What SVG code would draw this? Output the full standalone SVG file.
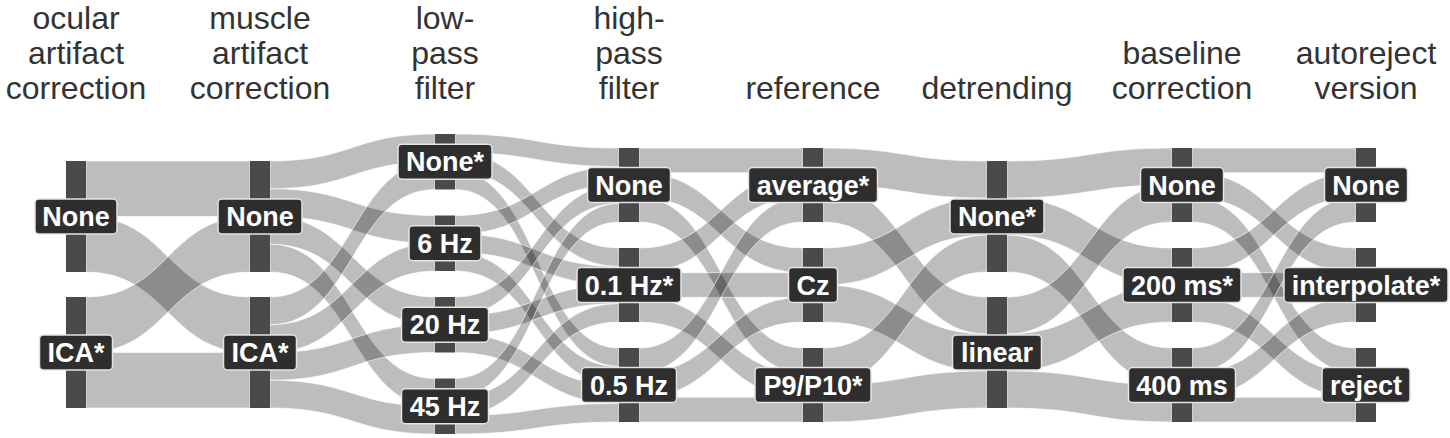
<svg xmlns="http://www.w3.org/2000/svg" width="1450" height="438" viewBox="0 0 1450 438">
<style>
.hd{font-family:"Liberation Sans",Arial,sans-serif;font-size:32px;fill:#333;text-anchor:middle}
.rb{fill:#000;fill-opacity:0.26;stroke:#fff;stroke-opacity:0.6;stroke-width:1}
.bar{fill:#4a4a4a}
.lb{fill:#2e2e2e;stroke:#e4e4e4;stroke-width:1.5}
.lt{font-family:"Liberation Sans",Arial,sans-serif;font-size:27px;font-weight:bold;fill:#fff;text-anchor:middle}
</style>
<rect width="1450" height="438" fill="#fff"/>
<g id="headers">
<text class="hd" x="76" y="29">ocular</text><text class="hd" x="76" y="64">artifact</text><text class="hd" x="76" y="99">correction</text>
<text class="hd" x="260" y="29">muscle</text><text class="hd" x="260" y="64">artifact</text><text class="hd" x="260" y="99">correction</text>
<text class="hd" x="445" y="29">low-</text><text class="hd" x="445" y="64">pass</text><text class="hd" x="445" y="99">filter</text>
<text class="hd" x="629" y="29">high-</text><text class="hd" x="629" y="64">pass</text><text class="hd" x="629" y="99">filter</text>
<text class="hd" x="813" y="99">reference</text>
<text class="hd" x="997" y="99">detrending</text>
<text class="hd" x="1182" y="64">baseline</text><text class="hd" x="1182" y="99">correction</text>
<text class="hd" x="1366" y="64">autoreject</text><text class="hd" x="1366" y="99">version</text>
</g>
<g id="connectors">
<path class="rb" d="M86,161 H250 V216.5 H86Z"/>
<path class="rb" d="M86,216.5 C168,216.5 168,297 250,297 L250,352.5 C168,352.5 168,272 86,272Z"/>
<path class="rb" d="M86,297 C168,297 168,216.5 250,216.5 L250,272 C168,272 168,352.5 86,352.5Z"/>
<path class="rb" d="M86,352.5 H250 V408 H86Z"/>

<path class="rb" d="M270,161 C352.5,161 352.5,134 435,134 L435,161.75 C352.5,161.75 352.5,188.75 270,188.75Z"/>
<path class="rb" d="M270,188.75 C352.5,188.75 352.5,215.5 435,215.5 L435,243.25 C352.5,243.25 352.5,216.5 270,216.5Z"/>
<path class="rb" d="M270,216.5 C352.5,216.5 352.5,297 435,297 L435,324.75 C352.5,324.75 352.5,244.25 270,244.25Z"/>
<path class="rb" d="M270,244.25 C352.5,244.25 352.5,378.5 435,378.5 L435,406.25 C352.5,406.25 352.5,272 270,272Z"/>
<path class="rb" d="M270,297 C352.5,297 352.5,161.75 435,161.75 L435,189.5 C352.5,189.5 352.5,324.75 270,324.75Z"/>
<path class="rb" d="M270,324.75 C352.5,324.75 352.5,243.25 435,243.25 L435,271 C352.5,271 352.5,352.5 270,352.5Z"/>
<path class="rb" d="M270,352.5 C352.5,352.5 352.5,324.75 435,324.75 L435,352.5 C352.5,352.5 352.5,380.25 270,380.25Z"/>
<path class="rb" d="M270,380.25 C352.5,380.25 352.5,406.25 435,406.25 L435,434 C352.5,434 352.5,408 270,408Z"/>

<path class="rb" d="M455,134 C537,134 537,148 619,148 L619,166.5 C537,166.5 537,152.5 455,152.5Z"/>
<path class="rb" d="M455,152.5 C537,152.5 537,248 619,248 L619,266.5 C537,266.5 537,171 455,171Z"/>
<path class="rb" d="M455,171 C537,171 537,348 619,348 L619,366.5 C537,366.5 537,189.5 455,189.5Z"/>
<path class="rb" d="M455,215.5 C537,215.5 537,166.5 619,166.5 L619,185 C537,185 537,234 455,234Z"/>
<path class="rb" d="M455,234 C537,234 537,266.5 619,266.5 L619,285 C537,285 537,252.5 455,252.5Z"/>
<path class="rb" d="M455,252.5 C537,252.5 537,366.5 619,366.5 L619,385 C537,385 537,271 455,271Z"/>
<path class="rb" d="M455,297 C537,297 537,185 619,185 L619,203.5 C537,203.5 537,315.5 455,315.5Z"/>
<path class="rb" d="M455,315.5 C537,315.5 537,285 619,285 L619,303.5 C537,303.5 537,334 455,334Z"/>
<path class="rb" d="M455,334 C537,334 537,385 619,385 L619,403.5 C537,403.5 537,352.5 455,352.5Z"/>
<path class="rb" d="M455,378.5 C537,378.5 537,203.5 619,203.5 L619,222 C537,222 537,397 455,397Z"/>
<path class="rb" d="M455,397 C537,397 537,303.5 619,303.5 L619,322 C537,322 537,415.5 455,415.5Z"/>
<path class="rb" d="M455,415.5 C537,415.5 537,403.5 619,403.5 L619,422 C537,422 537,434 455,434Z"/>

<path class="rb" d="M639,148 H803 V172.67 H639Z"/>
<path class="rb" d="M639,172.67 C721,172.67 721,248 803,248 L803,272.67 C721,272.67 721,197.33 639,197.33Z"/>
<path class="rb" d="M639,197.33 C721,197.33 721,348 803,348 L803,372.67 C721,372.67 721,222 639,222Z"/>
<path class="rb" d="M639,248 C721,248 721,172.67 803,172.67 L803,197.33 C721,197.33 721,272.67 639,272.67Z"/>
<path class="rb" d="M639,272.67 H803 V297.33 H639Z"/>
<path class="rb" d="M639,297.33 C721,297.33 721,372.67 803,372.67 L803,397.33 C721,397.33 721,322 639,322Z"/>
<path class="rb" d="M639,348 C721,348 721,197.33 803,197.33 L803,222 C721,222 721,372.67 639,372.67Z"/>
<path class="rb" d="M639,372.67 C721,372.67 721,297.33 803,297.33 L803,322 C721,322 721,397.33 639,397.33Z"/>
<path class="rb" d="M639,397.33 H803 V422 H639Z"/>

<path class="rb" d="M823,148 C905,148 905,161 987,161 L987,198 C905,198 905,185 823,185Z"/>
<path class="rb" d="M823,185 C905,185 905,297 987,297 L987,334 C905,334 905,222 823,222Z"/>
<path class="rb" d="M823,248 C905,248 905,198 987,198 L987,235 C905,235 905,285 823,285Z"/>
<path class="rb" d="M823,285 C905,285 905,334 987,334 L987,371 C905,371 905,322 823,322Z"/>
<path class="rb" d="M823,348 C905,348 905,235 987,235 L987,272 C905,272 905,385 823,385Z"/>
<path class="rb" d="M823,385 C905,385 905,371 987,371 L987,408 C905,408 905,422 823,422Z"/>

<path class="rb" d="M1007,161 C1089.5,161 1089.5,148 1172,148 L1172,185 C1089.5,185 1089.5,198 1007,198Z"/>
<path class="rb" d="M1007,198 C1089.5,198 1089.5,248 1172,248 L1172,285 C1089.5,285 1089.5,235 1007,235Z"/>
<path class="rb" d="M1007,235 C1089.5,235 1089.5,348 1172,348 L1172,385 C1089.5,385 1089.5,272 1007,272Z"/>
<path class="rb" d="M1007,297 C1089.5,297 1089.5,185 1172,185 L1172,222 C1089.5,222 1089.5,334 1007,334Z"/>
<path class="rb" d="M1007,334 C1089.5,334 1089.5,285 1172,285 L1172,322 C1089.5,322 1089.5,371 1007,371Z"/>
<path class="rb" d="M1007,371 C1089.5,371 1089.5,385 1172,385 L1172,422 C1089.5,422 1089.5,408 1007,408Z"/>

<path class="rb" d="M1192,148 H1356 V172.67 H1192Z"/>
<path class="rb" d="M1192,172.67 C1274,172.67 1274,248 1356,248 L1356,272.67 C1274,272.67 1274,197.33 1192,197.33Z"/>
<path class="rb" d="M1192,197.33 C1274,197.33 1274,348 1356,348 L1356,372.67 C1274,372.67 1274,222 1192,222Z"/>
<path class="rb" d="M1192,248 C1274,248 1274,172.67 1356,172.67 L1356,197.33 C1274,197.33 1274,272.67 1192,272.67Z"/>
<path class="rb" d="M1192,272.67 H1356 V297.33 H1192Z"/>
<path class="rb" d="M1192,297.33 C1274,297.33 1274,372.67 1356,372.67 L1356,397.33 C1274,397.33 1274,322 1192,322Z"/>
<path class="rb" d="M1192,348 C1274,348 1274,197.33 1356,197.33 L1356,222 C1274,222 1274,372.67 1192,372.67Z"/>
<path class="rb" d="M1192,372.67 C1274,372.67 1274,297.33 1356,297.33 L1356,322 C1274,322 1274,397.33 1192,397.33Z"/>
<path class="rb" d="M1192,397.33 H1356 V422 H1192Z"/>
</g>
<g id="ocular-none"><rect class="bar" x="66" y="161" width="20" height="111"/><rect class="lb" x="35" y="199" width="82" height="35" rx="4"/><text class="lt" x="76" y="226">None</text></g>
<g id="ocular-ica"><rect class="bar" x="66" y="297" width="20" height="111"/><rect class="lb" x="39.5" y="335" width="73" height="35" rx="4"/><text class="lt" x="76" y="362">ICA*</text></g>
<g id="muscle-none"><rect class="bar" x="250" y="161" width="20" height="111"/><rect class="lb" x="218" y="199" width="84" height="35" rx="4"/><text class="lt" x="260" y="226">None</text></g>
<g id="muscle-ica"><rect class="bar" x="250" y="297" width="20" height="111"/><rect class="lb" x="223.5" y="335" width="73" height="35" rx="4"/><text class="lt" x="260" y="362">ICA*</text></g>
<g id="lowpass-none"><rect class="bar" x="435" y="134" width="20" height="55.5"/><rect class="lb" x="398" y="144.25" width="94" height="35" rx="4"/><text class="lt" x="445" y="171.25">None*</text></g>
<g id="lowpass-6"><rect class="bar" x="435" y="215.5" width="20" height="55.5"/><rect class="lb" x="409" y="225.75" width="72" height="35" rx="4"/><text class="lt" x="445" y="252.75">6 Hz</text></g>
<g id="lowpass-20"><rect class="bar" x="435" y="297" width="20" height="55.5"/><rect class="lb" x="401.5" y="307.25" width="87" height="35" rx="4"/><text class="lt" x="445" y="334.25">20 Hz</text></g>
<g id="lowpass-45"><rect class="bar" x="435" y="378.5" width="20" height="55.5"/><rect class="lb" x="401.5" y="388.75" width="87" height="35" rx="4"/><text class="lt" x="445" y="415.75">45 Hz</text></g>
<g id="highpass-none"><rect class="bar" x="619" y="148" width="20" height="74"/><rect class="lb" x="587.5" y="167.5" width="83" height="35" rx="4"/><text class="lt" x="629" y="194.5">None</text></g>
<g id="highpass-01"><rect class="bar" x="619" y="248" width="20" height="74"/><rect class="lb" x="577" y="267.5" width="104" height="35" rx="4"/><text class="lt" x="629" y="294.5">0.1 Hz*</text></g>
<g id="highpass-05"><rect class="bar" x="619" y="348" width="20" height="74"/><rect class="lb" x="581.5" y="367.5" width="95" height="35" rx="4"/><text class="lt" x="629" y="394.5">0.5 Hz</text></g>
<g id="ref-average"><rect class="bar" x="803" y="148" width="20" height="74"/><rect class="lb" x="748.5" y="167.5" width="129" height="35" rx="4"/><text class="lt" x="813" y="194.5">average*</text></g>
<g id="ref-cz"><rect class="bar" x="803" y="248" width="20" height="74"/><rect class="lb" x="788.5" y="267.5" width="49" height="35" rx="4"/><text class="lt" x="813" y="294.5">Cz</text></g>
<g id="ref-p9p10"><rect class="bar" x="803" y="348" width="20" height="74"/><rect class="lb" x="755" y="367.5" width="116" height="35" rx="4"/><text class="lt" x="813" y="394.5">P9/P10*</text></g>
<g id="detrend-none"><rect class="bar" x="987" y="161" width="20" height="111"/><rect class="lb" x="950" y="199" width="94" height="35" rx="4"/><text class="lt" x="997" y="226">None*</text></g>
<g id="detrend-linear"><rect class="bar" x="987" y="297" width="20" height="111"/><rect class="lb" x="952.5" y="335" width="89" height="35" rx="4"/><text class="lt" x="997" y="362">linear</text></g>
<g id="baseline-none"><rect class="bar" x="1172" y="148" width="20" height="74"/><rect class="lb" x="1140.5" y="167.5" width="83" height="35" rx="4"/><text class="lt" x="1182" y="194.5">None</text></g>
<g id="baseline-200"><rect class="bar" x="1172" y="248" width="20" height="74"/><rect class="lb" x="1123" y="267.5" width="118" height="35" rx="4"/><text class="lt" x="1182" y="294.5">200 ms*</text></g>
<g id="baseline-400"><rect class="bar" x="1172" y="348" width="20" height="74"/><rect class="lb" x="1128.5" y="367.5" width="107" height="35" rx="4"/><text class="lt" x="1182" y="394.5">400 ms</text></g>
<g id="autoreject-none"><rect class="bar" x="1356" y="148" width="20" height="74"/><rect class="lb" x="1324.5" y="167.5" width="83" height="35" rx="4"/><text class="lt" x="1366" y="194.5">None</text></g>
<g id="autoreject-interpolate"><rect class="bar" x="1356" y="248" width="20" height="74"/><rect class="lb" x="1284" y="267.5" width="164" height="35" rx="4"/><text class="lt" x="1366" y="294.5">interpolate*</text></g>
<g id="autoreject-reject"><rect class="bar" x="1356" y="348" width="20" height="74"/><rect class="lb" x="1322" y="367.5" width="88" height="35" rx="4"/><text class="lt" x="1366" y="394.5">reject</text></g>
</svg>
